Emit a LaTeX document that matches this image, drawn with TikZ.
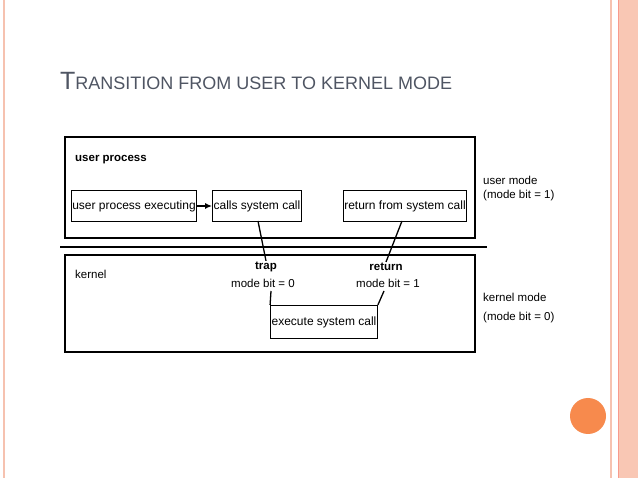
\documentclass[tikz,border=0pt]{standalone}
\usepackage{fontspec}
\setmainfont{Liberation Sans}
\usetikzlibrary{arrows.meta}
\definecolor{pinkb}{HTML}{F6C2B0}
\definecolor{salmon}{HTML}{F9C7B4}
\definecolor{orng}{HTML}{F78A4D}
\definecolor{titlec}{HTML}{4F5563}
\begin{document}
\begin{tikzpicture}[x=1pt,y=-1pt,
  box/.style={draw,line width=1.1pt,minimum height=31pt,inner sep=1pt,font=\fontsize{12}{13}\selectfont},
  lbl/.style={font=\fontsize{11.5}{12}\selectfont,inner sep=1pt},
  conn/.style={line width=1.3pt}]
\useasboundingbox (0,0) rectangle (638,478);
\fill[white] (0,0) rectangle (638,478);
% slide borders
\draw[pinkb,line width=1.5pt] (4,0) -- (4,478);
\draw[pinkb,line width=1.5pt] (611,0) -- (611,478);
\fill[salmon] (618,0) rectangle (638,478);
\draw[pinkb!80!red,line width=0.6pt] (618,0) -- (618,478);
\fill[orng] (588,416) circle (18);
% title
\node[anchor=base west,text=titlec,inner sep=0] (title) at (60,90)
  {\fontsize{25}{25}\selectfont T\fontsize{18}{18}\selectfont RANSITION FROM USER TO KERNEL MODE};
% regions
\draw[line width=1.1pt] (65,137) rectangle (475,238);
\draw[line width=1.6pt] (60,247) -- (487,247);
\draw[line width=1.1pt] (65,255) rectangle (475,352);
\node[lbl,anchor=west] (up) at (74,160) {\bfseries user process};
\node[lbl,anchor=west] (kn) at (74,274) {kernel};
% boxes
\node[box,minimum width=118pt] (b1) at (134,206) {user process executing};
\node[box,minimum width=84pt] (b2) at (257,206) {calls system call};
\node[box,minimum width=116pt] (b3) at (405,206) {return from system call};
\node[box,minimum width=102pt,minimum height=33pt] (ex) at (324,322) {execute system call};
\draw[conn,line width=2pt,-{Latex[length=7pt,width=6pt]}] (b1) -- (b2);
% trap
\node[lbl] (trap) at (266,267) {\bfseries trap};
\node[lbl] (mb0) at (263,283) {mode bit = 0};
\node[lbl] (ret) at (386,267) {\bfseries return};
\node[lbl] (mb1) at (388,283) {mode bit = 1};
\coordinate (t1) at (258,221);
\draw[conn] (t1) -- (trap.north);
\coordinate (t2) at (271,291);
\draw[conn] (t2) -- (ex.north west);
\coordinate (r1) at (402,221);
\draw[conn] (r1) -- (ret.north);
\coordinate (r2) at (384,291);
\draw[conn] (r2) -- (ex.north east);
% side labels
\node[lbl,anchor=west] (um) at (482,180) {user mode};
\node[lbl,anchor=west] (umb) at (482,196) {(mode bit = 1)};
\node[lbl,anchor=west] (km) at (482,297) {kernel mode};
\node[lbl,anchor=west] (kmb) at (482,318) {(mode bit = 0)};
\end{tikzpicture}
\end{document}
